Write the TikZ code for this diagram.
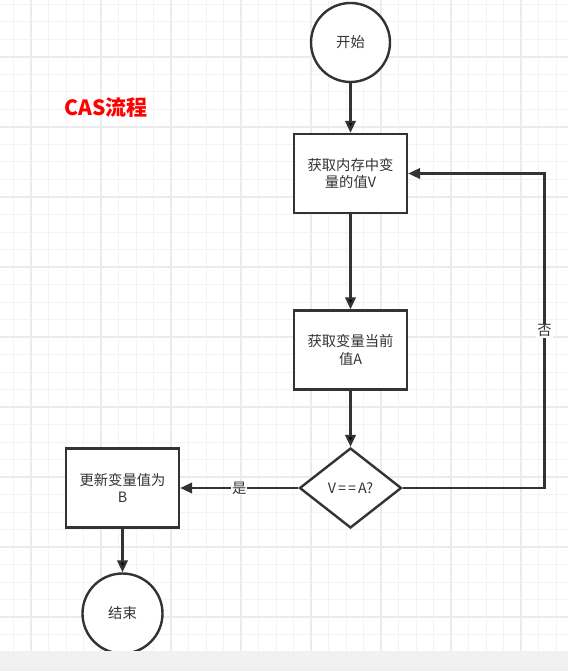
\documentclass[tikz,border=0pt]{standalone}
\usepackage{fontspec}
\usepackage{tikz}
\usetikzlibrary{arrows.meta}
\usetikzlibrary{shapes.geometric}
\newfontfamily\cjk{Noto Sans CJK SC}
\definecolor{ink}{HTML}{333333}
\definecolor{gridminor}{HTML}{F3F3F3}
\definecolor{gridmajor}{HTML}{EBEBEB}
\definecolor{barfill}{HTML}{F1F1F1}
\definecolor{titlered}{HTML}{FF0000}

\begin{document}
\begin{tikzpicture}[x=1pt,y=-1pt]
  \tikzset{txt/.style = {font=\cjk\fontsize{14.3}{17.5}\selectfont, text=ink}}
  \tikzset{state/.style = {shape=circle,draw=ink,line width=2.4pt,fill=white,minimum size=79pt,inner sep=0pt,txt}}
  \tikzset{stepbox/.style = {shape=rectangle,draw=ink,line width=2.4pt,fill=white,minimum width=113pt,minimum height=79pt,inner sep=2pt,align=center,txt}}
  \tikzset{test/.style = {shape=diamond,draw=ink,line width=2.4pt,fill=white,aspect=1.275,minimum width=102pt,minimum height=80pt,inner sep=0pt,txt}}
  \tikzset{answer/.style = {fill=white,inner sep=1pt,txt}}
  \tikzset{flow/.style = {-tipA,draw=ink,line width=2.4pt}}
  \tikzset{%
  tipA/.tip={Triangle[length=12pt,width=10.5pt]},
}

  \useasboundingbox (0,0) rectangle (568,671);
  % grid
  \fill[white] (0,0) rectangle (568,671);
  \foreach \i in {0,...,31}
    \draw[gridminor,line width=1pt] ({13.5+17.5*\i},0) -- ++(0,671);
  \foreach \j in {0,...,37}
    \draw[gridminor,line width=1pt] (0,{4.5+17.5*\j}) -- ++(568,0);
  \foreach \i in {0,...,7}
    \draw[gridmajor,line width=1.5pt] ({31+70*\i},0) -- ++(0,671);
  \foreach \j in {0,...,8}
    \draw[gridmajor,line width=1.5pt] (0,{57+70*\j}) -- ++(568,0);

  \node[font=\cjk\bfseries\fontsize{21}{25}\selectfont, text=titlered] (caption) at (106,107) {CAS流程};

  \node[state] (start) at (350.5,42.5) {开始};
  \node[stepbox] (getV) at (350.5,173.5) {获取内存中变\\量的值V};
  \node[stepbox] (getA) at (350.5,350) {获取变量当前\\值A};
  \node[test] (check) at (350.5,488) {V\kern2pt=\kern2pt=\kern2pt A?};
  \node[stepbox] (update) at (122.5,488) {更新变量值为\\B};
  \node[state,minimum size=80pt] (finish) at (122.5,613.5) {结束};
  \coordinate (loop) at (544.5,488);

  \foreach \from/\to in {start/getV, getV/getA, getA/check, update/finish}
    \path[flow] (\from) edge (\to);

  \draw[flow] (check) -- node[answer] {是} (update);
  \draw[flow] (check.east) -- (loop) |- node[answer,pos=0.25] {否} (getV.east);

  % bottom bar
  \fill[barfill] (0,651) rectangle (568,671);
\end{tikzpicture}
\end{document}
